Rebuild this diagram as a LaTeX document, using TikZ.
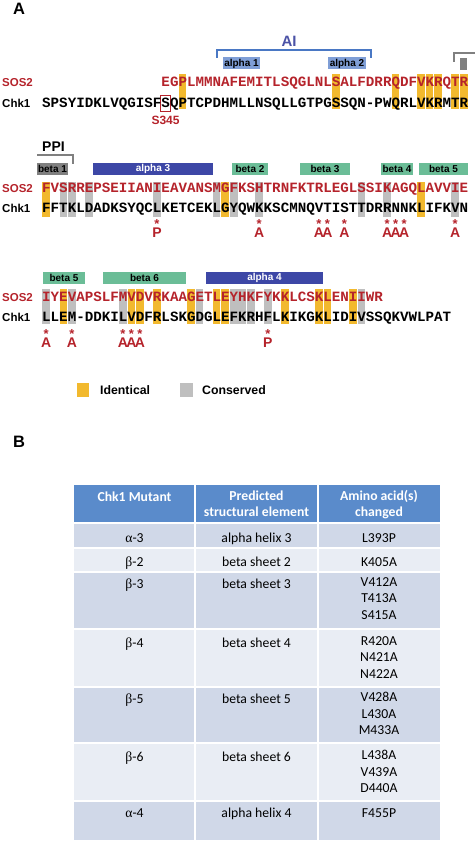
\documentclass[tikz,border=0pt]{standalone}
\usepackage{fontspec}
\setmainfont{Liberation Sans}
\newfontfamily\seqfont{Liberation Mono}
\newfontfamily\tabfont{Carlito}
\newfontfamily\greekfont{Liberation Serif}
\usetikzlibrary{positioning}

\definecolor{identgold}{HTML}{F2B92E}
\definecolor{consgrey}{HTML}{BFBFBF}
\definecolor{sosred}{HTML}{B5232B}
\definecolor{aiblue}{HTML}{4A78C4}
\definecolor{aitext}{HTML}{4B52A6}
\definecolor{helixlight}{HTML}{7F9ED6}
\definecolor{helixdark}{HTML}{3D47A6}
\definecolor{sheetgreen}{HTML}{6BBD97}
\definecolor{ppigrey}{HTML}{808080}
\definecolor{hdrblue}{HTML}{5A8BCB}
\definecolor{rowdark}{HTML}{D0D8E8}
\definecolor{rowlight}{HTML}{E9EDF4}

\newcommand{\mutmark}[1]{\ooalign{\hfil#1\hfil\cr\hfil\raisebox{8.5pt}{\fontsize{13}{13}\selectfont*}\hfil\cr}}

\begin{document}
\begin{tikzpicture}[x=1pt,y=-1pt,
	ident/.style={fill=identgold, minimum width=7.6pt, minimum height=35pt, inner sep=0, anchor=north},
	cons/.style={fill=consgrey, minimum width=7.6pt, minimum height=35pt, inner sep=0, anchor=north},
	seq/.style={font=\seqfont\bfseries\fontsize{14.2}{14.2}\selectfont, inner sep=0, anchor=base west},
	rowname/.style={font=\bfseries\fontsize{11.5}{12}\selectfont, inner sep=0, anchor=base west},
	elem/.style={font=\bfseries\fontsize{10}{10}\selectfont, inner sep=0, minimum height=12pt},
	helix/.style={elem, fill=helixdark, text=white},
	sheet/.style={elem, fill=sheetgreen},
	mut/.style={font=\bfseries\fontsize{14}{14}\selectfont, text=sosred, inner sep=0, anchor=base},
	legtext/.style={font=\bfseries\fontsize{12.3}{13}\selectfont, inner sep=0, anchor=west},
	cell/.style={font=\tabfont\fontsize{13.7}{16.5}\selectfont, align=center, inner sep=0, anchor=north, execute at begin node=\strut},
	head/.style={cell, text=white, font=\tabfont\bfseries\fontsize{13.7}{16}\selectfont}]
	\useasboundingbox (0,0) rectangle (474,842);

	\node[font=\bfseries\fontsize{16.5}{17}\selectfont, inner sep=0, anchor=base west] (panA) at (13,15) {A};

	\draw[aiblue, line width=2.5pt] (217,58) -- (217,50) -- (371,50) -- (371,58);
	\node[font=\bfseries\fontsize{15}{15}\selectfont, text=aitext, inner sep=0, anchor=base] (ai) at (289,47) {AI};
	\node[elem, fill=helixlight, minimum width=37pt] (al1) at (241.5,63.5) {alpha 1};
	\node[elem, fill=helixlight, minimum width=38pt] (al2) at (347,63.5) {alpha 2};
	\draw[ppigrey, line width=2.5pt] (454,62) -- (454,53) -- (476,53);
	\node[elem, fill=ppigrey, minimum width=7pt] (be1a) at (463.5,64) {};

	\begin{scope}[xshift=37.74pt, x=8.52pt]
		\node[ident] (r1i17) at (17,74) {};
		\node[ident] (r1i35) at (35,74) {};
		\node[ident] (r1i42) at (42,74) {};
		\node[ident] (r1i45) at (45,74) {};
		\node[ident] (r1i46) at (46,74) {};
		\node[ident] (r1i47) at (47,74) {};
		\node[ident] (r1i49) at (49,74) {};
		\node[ident] (r1i50) at (50,74) {};
		\node[draw=sosred, line width=0.8pt, minimum width=9.5pt, minimum height=16pt, inner sep=0] (sbox) at (15,103.5) {};
		\node[mut, font=\bfseries\fontsize{12}{12}\selectfont] (s345) at (15,125) {S345};
	\end{scope}
	\node[rowname, text=sosred] (sos1lbl) at (2,87) {SOS2};
	\node[rowname] (chk1lbl) at (2,108) {Chk1};
	\node[seq, text=sosred] (sos1) at (161.28,87) {EGPLMMNAFEMITLSQGLNLSALFDRRQDFVKRQTR};
	\node[seq] (chk1) at (42,108) {SPSYIDKLVQGISFSQPTCPDHMLLNSQLLGTPGSSQN-PWQRLVKRMTR};

	\node[font=\bfseries\fontsize{14}{14}\selectfont, inner sep=0, anchor=base west] (ppi) at (42,151.5) {PPI};
	\draw[ppigrey, line width=2.5pt] (37,155) -- (73,155) -- (73,164);
	\node[elem, fill=ppigrey, minimum width=31pt] (be1) at (52.5,169) {beta 1};
	\node[helix, minimum width=120pt] (al3) at (153,169) {alpha 3};
	\node[sheet, minimum width=36pt] (be2) at (250,169) {beta 2};
	\node[sheet, minimum width=50pt] (be3) at (325,169) {beta 3};
	\node[sheet, minimum width=32pt] (be4) at (397,169) {beta 4};
	\node[sheet, minimum width=49pt] (be5) at (443.5,169) {beta 5};

	\begin{scope}[xshift=37.74pt, x=8.52pt]
		\node[ident] (r2i1) at (1,182) {};
		\node[cons] (r2c3) at (3,182) {};
		\node[cons] (r2c4) at (4,182) {};
		\node[cons] (r2c6) at (6,182) {};
		\node[cons] (r2c14) at (14,182) {};
		\node[cons] (r2c21) at (21,182) {};
		\node[ident] (r2i22) at (22,182) {};
		\node[cons] (r2c23) at (23,182) {};
		\node[cons] (r2c26) at (26,182) {};
		\node[cons] (r2c38) at (38,182) {};
		\node[cons] (r2c41) at (41,182) {};
		\node[ident] (r2i45) at (45,182) {};
		\node[cons] (r2c49) at (49,182) {};

		\node[mut] (r2m14) at (14,237) {\mutmark{P}};
		\node[mut] (r2m26) at (26,237) {\mutmark{A}};
		\node[mut] (r2m33) at (33,237) {\mutmark{A}};
		\node[mut] (r2m34) at (34,237) {\mutmark{A}};
		\node[mut] (r2m36) at (36,237) {\mutmark{A}};
		\node[mut] (r2m41) at (41,237) {\mutmark{A}};
		\node[mut] (r2m42) at (42,237) {\mutmark{A}};
		\node[mut] (r2m43) at (43,237) {\mutmark{A}};
		\node[mut] (r2m49) at (49,237) {\mutmark{A}};
	\end{scope}
	\node[rowname, text=sosred] (sos2lbl) at (2,193) {SOS2};
	\node[rowname] (chk2lbl) at (2,213) {Chk1};
	\node[seq, text=sosred] (sos2) at (42,193) {FVSRREPSEIIANIEAVANSMGFKSHTRNFKTRLEGLSSIKAGQLAVVIE};
	\node[seq] (chk2) at (42,213) {FFTKLDADKSYQCLKETCEKLGYQWKKSCMNQVTISTTDRRNNKLIFKVN};

	\node[sheet, minimum width=42pt] (be5b) at (64,277.5) {beta 5};
	\node[sheet, minimum width=83pt] (be6) at (144.5,277.5) {beta 6};
	\node[helix, minimum width=117pt] (al4) at (264.5,277.5) {alpha 4};

	\begin{scope}[xshift=37.74pt, x=8.52pt]
		\node[cons] (r3c1) at (1,289) {};
		\node[ident] (r3i3) at (3,289) {};
		\node[cons] (r3c4) at (4,289) {};
		\node[cons] (r3c10) at (10,289) {};
		\node[ident] (r3i11) at (11,289) {};
		\node[ident] (r3i12) at (12,289) {};
		\node[ident] (r3i14) at (14,289) {};
		\node[ident] (r3i18) at (18,289) {};
		\node[cons] (r3c19) at (19,289) {};
		\node[ident] (r3i21) at (21,289) {};
		\node[ident] (r3i22) at (22,289) {};
		\node[cons] (r3c23) at (23,289) {};
		\node[cons] (r3c24) at (24,289) {};
		\node[cons] (r3c25) at (25,289) {};
		\node[cons] (r3c27) at (27,289) {};
		\node[ident] (r3i29) at (29,289) {};
		\node[ident] (r3i33) at (33,289) {};
		\node[ident] (r3i34) at (34,289) {};
		\node[ident] (r3i37) at (37,289) {};
		\node[cons] (r3c38) at (38,289) {};

		\node[mut] (r3m1) at (1,347) {\mutmark{A}};
		\node[mut] (r3m4) at (4,347) {\mutmark{A}};
		\node[mut] (r3m10) at (10,347) {\mutmark{A}};
		\node[mut] (r3m11) at (11,347) {\mutmark{A}};
		\node[mut] (r3m12) at (12,347) {\mutmark{A}};
		\node[mut] (r3m27) at (27,347) {\mutmark{P}};
	\end{scope}
	\node[rowname, text=sosred] (sos3lbl) at (2,301) {SOS2};
	\node[rowname] (chk3lbl) at (2,321) {Chk1};
	\node[seq, text=sosred] (sos3) at (42,301) {IYEVAPSLFMVDVRKAAGETLEYHKFYKKLCSKLENIIWR};
	\node[seq] (chk3) at (42,321) {LLEM-DDKILVDFRLSKGDGLEFKRHFLKIKGKLIDIVSSQKVWLPAT};

	\node[fill=identgold, minimum width=12pt, minimum height=14pt, inner sep=0] (keyid) at (83,390) {};
	\node[legtext] (keyidtxt) at (100,390) {Identical};
	\node[fill=consgrey, minimum width=13pt, minimum height=14pt, inner sep=0] (keycons) at (186.5,390) {};
	\node[legtext] (keyconstxt) at (202,390) {Conserved};

	\node[font=\bfseries\fontsize{16.5}{17}\selectfont, inner sep=0, anchor=base west] (panB) at (13,447) {B};

	\fill[hdrblue] (74,485) rectangle (440,523);
	\fill[rowdark] (74,523) rectangle (440,548);
	\fill[rowlight] (74,548) rectangle (440,572);
	\fill[rowdark] (74,572) rectangle (440,629);
	\fill[rowlight] (74,629) rectangle (440,687);
	\fill[rowdark] (74,687) rectangle (440,743);
	\fill[rowlight] (74,743) rectangle (440,801);
	\fill[rowdark] (74,801) rectangle (440,840);
	\draw[white, line width=2pt] (195,485) -- (195,840) (318,485) -- (318,840);
	\draw[white, line width=2.5pt] (74,523) -- (440,523);
	\draw[white, line width=2pt] (74,548) -- (440,548) (74,572) -- (440,572) (74,629) -- (440,629) (74,687) -- (440,687) (74,743) -- (440,743) (74,801) -- (440,801);

	\node[head] (hmut) at (134.5,490.3) {Chk1 Mutant};
	\node[head] (helem) at (256.5,490.3) {Predicted\\structural element};
	\node[head] (haa) at (379,490.3) {Amino acid(s)\\changed};

	\node[cell] (mut1) at (134.5,531.2) {{\greekfont α}-3};
	\node[cell] (elem1) at (256.5,531.2) {alpha helix 3};
	\node[cell] (aa1) at (379,531.2) {L393P};

	\node[cell] (mut2) at (134.5,555) {{\greekfont β}-2};
	\node[cell] (elem2) at (256.5,555) {beta sheet 2};
	\node[cell] (aa2) at (379,555) {K405A};

	\node[cell] (mut3) at (134.5,577) {{\greekfont β}-3};
	\node[cell] (elem3) at (256.5,577) {beta sheet 3};
	\node[cell] (aa3) at (379,577) {V412A\\T413A\\S415A};

	\node[cell] (mut4) at (134.5,636) {{\greekfont β}-4};
	\node[cell] (elem4) at (256.5,636) {beta sheet 4};
	\node[cell] (aa4) at (379,636) {R420A\\N421A\\N422A};

	\node[cell] (mut5) at (134.5,692) {{\greekfont β}-5};
	\node[cell] (elem5) at (256.5,692) {beta sheet 5};
	\node[cell] (aa5) at (379,692) {V428A\\L430A\\M433A};

	\node[cell] (mut6) at (134.5,750) {{\greekfont β}-6};
	\node[cell] (elem6) at (256.5,750) {beta sheet 6};
	\node[cell] (aa6) at (379,750) {L438A\\V439A\\D440A};

	\node[cell] (mut7) at (134.5,806) {{\greekfont α}-4};
	\node[cell] (elem7) at (256.5,806) {alpha helix 4};
	\node[cell] (aa7) at (379,806) {F455P};
\end{tikzpicture}
\end{document}
